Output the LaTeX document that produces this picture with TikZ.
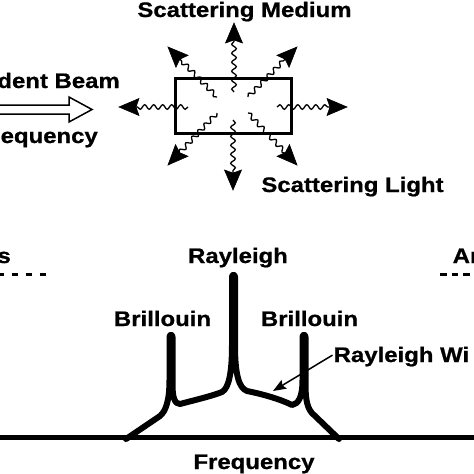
\documentclass[tikz,border=0pt]{standalone}
\usepackage{fontspec}
\newfontfamily\lab{Liberation Sans}[FakeStretch=1.14,FakeBold=0.8]
\usetikzlibrary{arrows.meta,decorations.pathmorphing,calc}
\begin{document}
\begin{tikzpicture}[x=1pt,y=-1pt,
  lbl/.style={font=\lab\bfseries\fontsize{21}{21}\selectfont, inner sep=0pt},
  wavy/.style={line width=1.3pt, decorate, decoration={snake, amplitude=2.3pt, segment length=9pt}},
  headfill/.style={fill=black, draw=black, line width=0.6pt, line join=miter},
  spec/.style={line width=6pt, line join=round, line cap=round},
  dashline/.style={line width=3pt},
  hollow/.style={line width=1.5pt, fill=white, line join=miter}]
\clip (0,0) rectangle (474,474);
\fill[white] (0,0) rectangle (474,474);

% texts
\node[lbl, anchor=base] (med) at (244.5,17) {Scattering Medium};
\node[lbl, anchor=base] (light) at (352.5,192) {Scattering Light};
\node[lbl, anchor=base east] (inc) at (120,88) {dent Beam};
\node[lbl, anchor=base east] (incf) at (98,143) {equency};
\node[lbl, anchor=base] (ray) at (238,263) {Rayleigh};
\node[lbl, anchor=base] (bril1) at (162.5,326) {Brillouin};
\node[lbl, anchor=base] (bril2) at (309.5,326) {Brillouin};
\node[lbl, anchor=base west] (wing) at (333.5,362) {Rayleigh Wi};
\node[lbl, anchor=base] (freq) at (254,469) {Frequency};
\node[lbl, anchor=base east] (stokes) at (11,263) {s};
\node[lbl, anchor=base west] (anti) at (452.5,263) {Ar};

% medium box
\node[draw, line width=3pt, minimum width=116pt, minimum height=55pt, inner sep=0pt] (box) at (233.5,106) {};

% incident beam hollow arrow
\draw[hollow] (-5,105) -- (69,105) -- (69,97) -- (92,109.5) -- (69,122) -- (69,114) -- (-5,114) -- cycle;

% scattered light
\coordinate (sL) at (188,107);   \coordinate (tL) at (119,107);
\coordinate (sR) at (277,107);   \coordinate (tR) at (347,107);
\coordinate (sT) at (234,92);    \coordinate (tT) at (234,23);
\coordinate (sB) at (233,120);   \coordinate (tB) at (233,190);
\coordinate (sUL) at (217,97);   \coordinate (tUL) at (168,47);
\coordinate (sUR) at (248,97);   \coordinate (tUR) at (297,47);
\coordinate (sLL) at (217,113);  \coordinate (tLL) at (168,165);
\coordinate (sLR) at (248,113);  \coordinate (tLR) at (297,165);
\foreach \d in {L,R,T,B,UL,UR,LL,LR}{
  \draw[wavy] (s\d) -- ($(t\d)!16pt!(s\d)$);
  \coordinate (b\d) at ($(t\d)!20pt!(s\d)$);
  \filldraw[headfill] (t\d) -- ($(b\d)!8.5pt!90:(t\d)$) -- ($(t\d)!17pt!(s\d)$) -- ($(b\d)!8.5pt!-90:(t\d)$) -- cycle;
}

% dashed lines
\draw[dashline, dash pattern=on 6.5pt off 7.5pt] (-2.5,274) -- (50,274);
\draw[dashline, dash pattern=on 6.5pt off 5pt] (440,274) -- (480,274);

% axis
\draw[line width=4.5pt] (-5,437.7) -- (480,437.7);

% spectrum
\draw[spec] (126,439) -- (160,416) .. controls (166,411) and (169.5,400) .. (169.5,380) -- (169.5,337)
  .. controls (169.5,334) and (172.5,334) .. (172.5,337) -- (172.5,385)
  .. controls (172.5,398) and (175,404) .. (180,404)
  .. controls (195,400) and (212,396) .. (222,392)
  .. controls (229,388) and (232,372) .. (232,345) -- (232,277)
  .. controls (232,274) and (235,274) .. (235,277) -- (235,345)
  .. controls (235,375) and (239,388) .. (247,391)
  .. controls (262,394) and (280,399) .. (292,405)
  .. controls (298,404) and (302.5,398) .. (302.5,380) -- (302.5,337)
  .. controls (302.5,334) and (305.5,334) .. (305.5,337) -- (305.5,385)
  .. controls (305.5,402) and (308,410) .. (314,415) -- (339,439);

% rayleigh wing pointer
\coordinate (wtip) at (273,391);
\draw[line width=1.5pt, -{Stealth[length=13pt,width=10pt,inset=2pt]}] ($(wing.west)+(-1,-1.5)$) -- (wtip);
\end{tikzpicture}
\end{document}
